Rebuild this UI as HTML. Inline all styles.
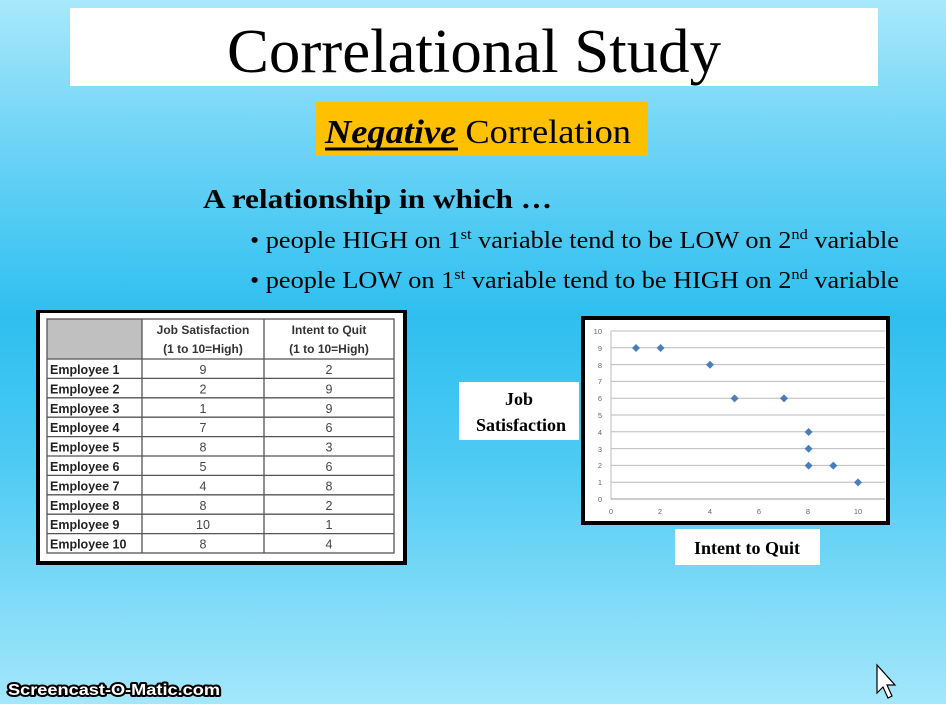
<!DOCTYPE html>
<html><head><meta charset="utf-8"><style>
html,body{margin:0;padding:0;width:946px;height:704px;overflow:hidden}
body{background:linear-gradient(180deg,#a8e8fb 0%,#6fd4f6 20%,#2ebff0 45%,#4ccaf3 65%,#a4e7fb 100%)}
svg{display:block}
.s{font-family:"Liberation Serif",serif}
.a{font-family:"Liberation Sans",sans-serif}
</style></head><body>
<svg width="946" height="704" xmlns="http://www.w3.org/2000/svg">
<rect x="70" y="8" width="808" height="78" fill="#fff"/>
<text class="s" x="474" y="72" font-size="62" text-anchor="middle" textLength="494" lengthAdjust="spacingAndGlyphs">Correlational Study</text>
<rect x="316" y="102" width="332" height="54" fill="#ffc000"/>
<text class="s" x="325" y="143" font-size="34" textLength="306" lengthAdjust="spacingAndGlyphs"><tspan font-style="italic" font-weight="bold">Negative</tspan> Correlation</text>
<line x1="325" y1="149" x2="458" y2="149" stroke="#000" stroke-width="3"/>
<text class="s" x="203" y="208" font-size="27" font-weight="bold" textLength="349" lengthAdjust="spacingAndGlyphs">A relationship in which …</text>
<text class="s" x="250" y="248" font-size="24" textLength="649" lengthAdjust="spacingAndGlyphs">• people HIGH  on 1<tspan font-size="15" dy="-9">st</tspan><tspan dy="9"> variable  tend to be LOW  on 2</tspan><tspan font-size="15" dy="-9">nd</tspan><tspan dy="9"> variable</tspan></text>
<text class="s" x="250" y="288" font-size="24" textLength="649" lengthAdjust="spacingAndGlyphs">• people LOW  on 1<tspan font-size="15" dy="-9">st</tspan><tspan dy="9"> variable  tend to be HIGH  on 2</tspan><tspan font-size="15" dy="-9">nd</tspan><tspan dy="9"> variable</tspan></text>

<rect x="36" y="310" width="371" height="255" fill="#000"/>
<rect x="40" y="313" width="363" height="248" fill="#fff"/>
<rect x="47" y="319" width="95" height="40" fill="#c0c0c0"/>
<g stroke="#555" stroke-width="1.3" fill="none">
<rect x="47" y="319" width="347" height="234"/>
<line x1="142" y1="319" x2="142" y2="553"/><line x1="264" y1="319" x2="264" y2="553"/>
<line x1="47" y1="359" x2="394" y2="359"/><line x1="47" y1="378.4" x2="394" y2="378.4"/><line x1="47" y1="397.8" x2="394" y2="397.8"/><line x1="47" y1="417.2" x2="394" y2="417.2"/><line x1="47" y1="436.6" x2="394" y2="436.6"/><line x1="47" y1="456" x2="394" y2="456"/><line x1="47" y1="475.4" x2="394" y2="475.4"/><line x1="47" y1="494.8" x2="394" y2="494.8"/><line x1="47" y1="514.2" x2="394" y2="514.2"/><line x1="47" y1="533.6" x2="394" y2="533.6"/>
</g>
<g class="a" font-size="12" font-weight="bold" fill="#333" text-anchor="middle">
<text x="203" y="334">Job Satisfaction</text><text x="203" y="353">(1 to 10=High)</text>
<text x="329" y="334">Intent to Quit</text><text x="329" y="353">(1 to 10=High)</text>
</g>
<g class="a" font-size="12.5" font-weight="bold" fill="#222">
<text x="50" y="374">Employee 1</text><text x="50" y="393.4">Employee 2</text><text x="50" y="412.8">Employee 3</text><text x="50" y="432.2">Employee 4</text><text x="50" y="451.6">Employee 5</text><text x="50" y="471">Employee 6</text><text x="50" y="490.4">Employee 7</text><text x="50" y="509.8">Employee 8</text><text x="50" y="529.2">Employee 9</text><text x="50" y="548.6">Employee 10</text>
</g>
<g class="a" font-size="12.5" fill="#444" text-anchor="middle">
<text x="203" y="374">9</text><text x="203" y="393.4">2</text><text x="203" y="412.8">1</text><text x="203" y="432.2">7</text><text x="203" y="451.6">8</text><text x="203" y="471">5</text><text x="203" y="490.4">4</text><text x="203" y="509.8">8</text><text x="203" y="529.2">10</text><text x="203" y="548.6">8</text>
<text x="329" y="374">2</text><text x="329" y="393.4">9</text><text x="329" y="412.8">9</text><text x="329" y="432.2">6</text><text x="329" y="451.6">3</text><text x="329" y="471">6</text><text x="329" y="490.4">8</text><text x="329" y="509.8">2</text><text x="329" y="529.2">1</text><text x="329" y="548.6">4</text>
</g>

<rect x="581" y="316" width="309" height="209" fill="#000"/>
<rect x="585" y="320" width="301" height="201" fill="#fff"/>
<g stroke="#bbb" stroke-width="1">
<line x1="611" y1="331" x2="885" y2="331"/><line x1="611" y1="347.8" x2="885" y2="347.8"/><line x1="611" y1="364.6" x2="885" y2="364.6"/><line x1="611" y1="381.4" x2="885" y2="381.4"/><line x1="611" y1="398.2" x2="885" y2="398.2"/><line x1="611" y1="415" x2="885" y2="415"/><line x1="611" y1="431.8" x2="885" y2="431.8"/><line x1="611" y1="448.6" x2="885" y2="448.6"/><line x1="611" y1="465.4" x2="885" y2="465.4"/><line x1="611" y1="482.2" x2="885" y2="482.2"/>
<line x1="611" y1="331" x2="611" y2="499"/>
</g>
<line x1="611" y1="499" x2="885" y2="499" stroke="#999"/>
<g class="a" font-size="7.5" fill="#666" text-anchor="end">
<text x="602" y="334">10</text><text x="602" y="351">9</text><text x="602" y="368">8</text><text x="602" y="384">7</text><text x="602" y="401">6</text><text x="602" y="418">5</text><text x="602" y="435">4</text><text x="602" y="452">3</text><text x="602" y="468">2</text><text x="602" y="485">1</text><text x="602" y="502">0</text>
</g>
<g class="a" font-size="7.5" fill="#666" text-anchor="middle">
<text x="611" y="514">0</text><text x="660" y="514">2</text><text x="710" y="514">4</text><text x="759" y="514">6</text><text x="808" y="514">8</text><text x="858" y="514">10</text>
</g>
<g fill="#4a7ebb">
<path d="M636 344l4 4-4 4-4-4z"/><path d="M660.6 344l4 4-4 4-4-4z"/><path d="M710 360.8l4 4-4 4-4-4z"/><path d="M734.6 394.4l4 4-4 4-4-4z"/><path d="M784 394.4l4 4-4 4-4-4z"/><path d="M808.6 428l4 4-4 4-4-4z"/><path d="M808.6 444.8l4 4-4 4-4-4z"/><path d="M808.6 461.6l4 4-4 4-4-4z"/><path d="M833.3 461.6l4 4-4 4-4-4z"/><path d="M858 478.4l4 4-4 4-4-4z"/>
</g>
<rect x="459" y="382" width="120" height="58" fill="#fff"/>
<g class="s" font-size="18" font-weight="bold" text-anchor="middle">
<text x="519" y="405">Job</text><text x="521" y="431">Satisfaction</text>
</g>
<rect x="675" y="529" width="145" height="36" fill="#fff"/>
<text class="s" x="747" y="554" font-size="18" font-weight="bold" text-anchor="middle">Intent  to Quit</text>

<text class="a" x="8" y="695" font-size="16" font-weight="bold" fill="#fff" stroke="#000" stroke-width="4" paint-order="stroke" stroke-linejoin="round" textLength="212" lengthAdjust="spacingAndGlyphs">Screencast-O-Matic.com</text>
<path d="M877 665 L877 693 L883 687 L888 698 L892 696 L887 685 L895 685 Z" fill="#fff" stroke="#000" stroke-width="1.2"/>
</svg>
</body></html>
